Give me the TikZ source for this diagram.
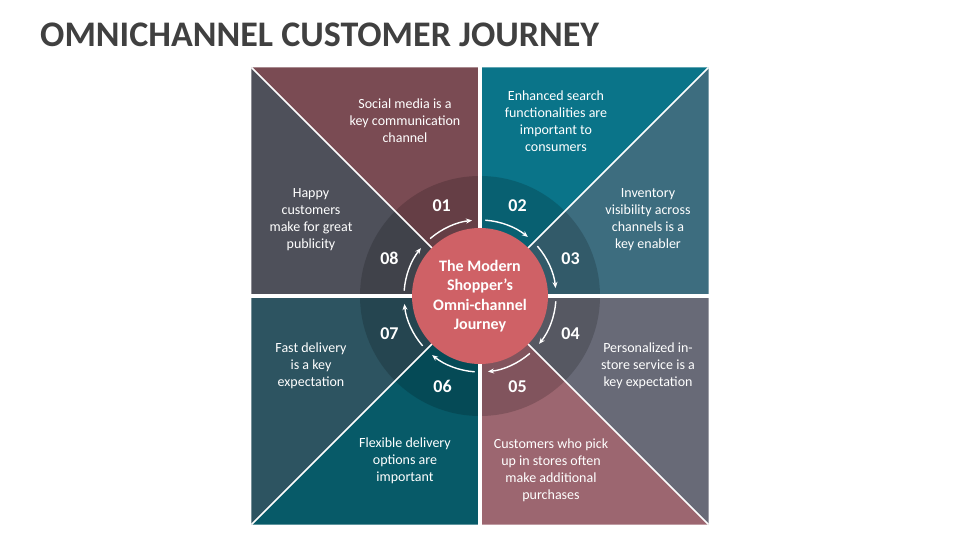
\documentclass[tikz,border=0pt]{standalone}
\usepackage{fontspec}
\setmainfont{Carlito}
\usetikzlibrary{arrows.meta}

\definecolor{titlegray}{HTML}{404040}
\definecolor{wine}{HTML}{7A4B53}
\definecolor{slate}{HTML}{4E505A}
\definecolor{ocean}{HTML}{0A7489}
\definecolor{steel}{HTML}{3D6D7F}
\definecolor{ash}{HTML}{686A77}
\definecolor{rose}{HTML}{9C6670}
\definecolor{deepteal}{HTML}{075A68}
\definecolor{pine}{HTML}{2D5461}
\definecolor{coral}{HTML}{CF6166}

\begin{document}
\begin{tikzpicture}[x=1pt,y=1pt,
  blurb/.style={text=white, align=center, font=\fontsize{14}{17}\selectfont},
  num/.style={text=white, font=\fontsize{18}{20}\selectfont\bfseries},
  flow/.style={white, line width=1.4pt, -{Stealth[length=6pt,width=5pt]}}]

  \useasboundingbox (-480,-244) rectangle (480,296);

  % Title
  \node[anchor=base west, inner sep=0, text=titlegray,
        font=\fontsize{36}{40}\selectfont\bfseries] (title) at (-440,249)
        {OMNICHANNEL CUSTOMER JOURNEY};

  % Quadrants, each cut in two along its diagonal
  \fill[wine]     (-228.5,228.5) -- (-2,228.5) -- (-2,2) -- cycle;
  \fill[slate]    (-228.5,228.5) -- (-228.5,2) -- (-2,2) -- cycle;
  \fill[ocean]    (228.5,228.5) -- (2,228.5) -- (2,2) -- cycle;
  \fill[steel]    (228.5,228.5) -- (228.5,2) -- (2,2) -- cycle;
  \fill[ash]      (228.5,-228.5) -- (228.5,-2) -- (2,-2) -- cycle;
  \fill[rose]     (228.5,-228.5) -- (2,-228.5) -- (2,-2) -- cycle;
  \fill[deepteal] (-228.5,-228.5) -- (-2,-228.5) -- (-2,-2) -- cycle;
  \fill[pine]     (-228.5,-228.5) -- (-228.5,-2) -- (-2,-2) -- cycle;

  % Shaded ring and white cuts
  \fill[black, opacity=0.17] (0,0) circle[radius=120];
  \draw[white, line width=4pt] (-230,0) -- (230,0) (0,-230) -- (0,230);
  \draw[white, line width=1.5pt] (-228.5,228.5) -- (228.5,-228.5)
                                 (228.5,228.5) -- (-228.5,-228.5);

  % Hub
  \node[circle, fill=coral, minimum size=136pt, inner sep=0, text=white, align=center,
        font=\fontsize{16}{19.3}\selectfont\bfseries] (hub) at (0,0)
        {The Modern\\Shopper's\\Omni-channel\\Journey};

  % Step numbers
  \node[num] (n01) at (113:98)  {01};
  \node[num] (n02) at (67.5:98) {02};
  \node[num] (n03) at (22.5:98) {03};
  \node[num] (n04) at (-22.5:98) {04};
  \node[num] (n05) at (-67.5:98) {05};
  \node[num] (n06) at (-112.5:98) {06};
  \node[num] (n07) at (202.5:98) {07};
  \node[num] (n08) at (157.5:98) {08};

  % Arrows round the hub
  \draw[flow] (hub.center) ++(131:76) arc[start angle=131, end angle=96, radius=76];
  \draw[flow] (hub.center) ++(86:76)  arc[start angle=86,  end angle=51, radius=76];
  \draw[flow] (hub.center) ++(41:76)  arc[start angle=41,  end angle=6,  radius=76];
  \draw[flow] (hub.center) ++(-4:76)  arc[start angle=-4,  end angle=-39, radius=76];
  \draw[flow] (hub.center) ++(-49:76) arc[start angle=-49, end angle=-84, radius=76];
  \draw[flow] (hub.center) ++(-94:76) arc[start angle=-94, end angle=-129, radius=76];
  \draw[flow] (hub.center) ++(221:76) arc[start angle=221, end angle=186, radius=76];
  \draw[flow] (hub.center) ++(176:76) arc[start angle=176, end angle=141, radius=76];

  % Texts
  \node[blurb] (t01) at (-75,175)  {Social media is a\\key communication\\channel};
  \node[blurb] (t02) at (76,175)   {Enhanced search\\functionalities are\\important to\\consumers};
  \node[blurb] (t03) at (168,76.5) {Inventory\\visibility across\\channels is a\\key enabler};
  \node[blurb] (t04) at (168,-70)  {Personalized in-\\store service is a\\key expectation};
  \node[blurb] (t05) at (71,-174)  {Customers who pick\\up in stores often\\make additional\\purchases};
  \node[blurb] (t06) at (-75,-165) {Flexible delivery\\options are\\important};
  \node[blurb] (t07) at (-169,-70) {Fast delivery\\is a key\\expectation};
  \node[blurb] (t08) at (-169,76.5) {Happy\\customers\\make for great\\publicity};

\end{tikzpicture}
\end{document}
